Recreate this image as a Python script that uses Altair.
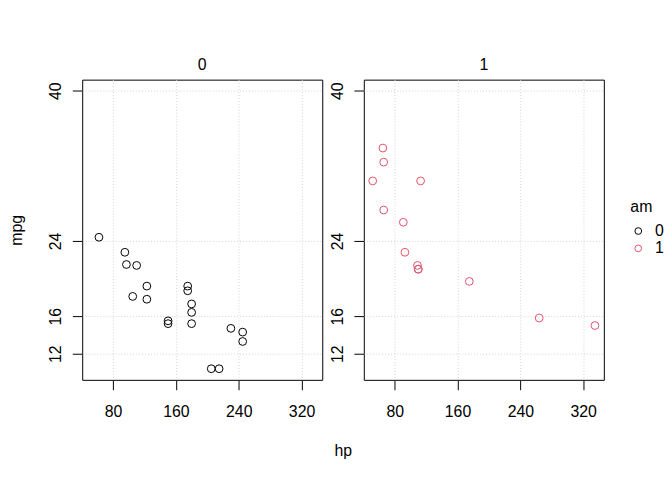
import altair as alt
import pandas as pd

# mtcars: hp and mpg, split by transmission (am)
hp_am0 = [110, 175, 105, 245, 62, 95, 123, 123, 180, 180, 180, 205, 215, 230, 97, 150, 150, 245, 175]
mpg_am0 = [21.4, 18.7, 18.1, 14.3, 24.4, 22.8, 19.2, 17.8, 16.4, 17.3, 15.2, 10.4, 10.4, 14.7, 21.5, 15.5, 15.2, 13.3, 19.2]
hp_am1 = [110, 110, 93, 66, 52, 65, 66, 91, 113, 264, 175, 335, 109]
mpg_am1 = [21.0, 21.0, 22.8, 32.4, 30.4, 33.9, 27.3, 26.0, 30.4, 15.8, 19.7, 15.0, 21.4]

groups = ["0", "1"]
colors = ["black", "#DF536B"]
x_ticks = [80, 160, 240, 320]
y_ticks = [12, 16, 24, 40]
x_domain = [40.68, 346.32]
y_domain = [9.216, 41.184]

df = pd.DataFrame({
    "hp": hp_am0 + hp_am1,
    "mpg": mpg_am0 + mpg_am1,
    "am": ["0"] * len(hp_am0) + ["1"] * len(hp_am1),
})

FONT = "Liberation Sans"
W, H = 242.6, 303.4


def panel(key, first):
    xaxis = alt.Axis(
        values=x_ticks, tickSize=10, labelPadding=14.5, domain=False,
        grid=True, gridDash=[1, 2], gridColor="#D3D3D3",
        labelFontSize=16, labelFont=FONT, labelColor="black", tickColor="black",
        title="hp" if first else None,
        titleX=263.4, titleY=76, titleBaseline="alphabetic", titleAlign="center",
        titleFontSize=16, titleFontWeight="normal", titleFont=FONT, titleColor="black",
    )
    yaxis = alt.Axis(
        values=y_ticks, tickSize=10, labelPadding=12, domain=False,
        labelAngle=270, labelAlign="center", labelBaseline="alphabetic",
        grid=True, gridDash=[1, 2], gridColor="#D3D3D3",
        labelFontSize=16, labelFont=FONT, labelColor="black", tickColor="black",
        title="mpg" if first else None,
        titleX=-61.5, titleY=H / 2, titleAngle=270, titleBaseline="alphabetic",
        titleAlign="center",
        titleFontSize=16, titleFontWeight="normal", titleFont=FONT, titleColor="black",
    )
    return (
        alt.Chart(df)
        .transform_filter(alt.datum.am == key)
        .mark_point(shape="circle", filled=False, size=62, strokeWidth=1, opacity=1)
        .encode(
            x=alt.X("hp:Q", scale=alt.Scale(domain=x_domain, nice=False, zero=False), axis=xaxis),
            y=alt.Y("mpg:Q", scale=alt.Scale(domain=y_domain, nice=False, zero=False), axis=yaxis),
            color=alt.Color(
                "am:N",
                scale=alt.Scale(domain=groups, range=colors),
                legend=alt.Legend(
                    title="am", orient="none", legendX=554, legendY=121,
                    titleAnchor="start", titleAlign="left",
                    titleFontSize=16, titleFontWeight="normal", titleFont=FONT, titleColor="black",
                    labelFontSize=16, labelFont=FONT, labelColor="black",
                    symbolType="circle", symbolSize=46, symbolStrokeWidth=1,
                    rowPadding=1.5, titlePadding=8, labelOffset=9, padding=0,
                ),
            ),
        )
        .properties(
            width=W, height=H,
            view=alt.ViewBackground(stroke="black", strokeWidth=1, fill="white", strokeOpacity=1),
            title=alt.TitleParams(
                text=key, fontSize=16, fontWeight="normal", font=FONT, color="black",
                baseline="alphabetic", offset=-6.4, frame="group", anchor="middle",
            ),
        )
    )


chart = (
    alt.hconcat(panel("0", True), panel("1", False), spacing=41.6, bounds="flush")
    .properties(padding={"left": 0, "top": 46, "right": 0, "bottom": 0})
    .configure(
        background="white",
        view=alt.ViewConfig(stroke="black", strokeWidth=1, fill="white"),
        style={"cell": {"stroke": "black", "strokeWidth": 1}},
    )
)

chart.save("out.html", embed_options={"renderer": "svg", "actions": False})
